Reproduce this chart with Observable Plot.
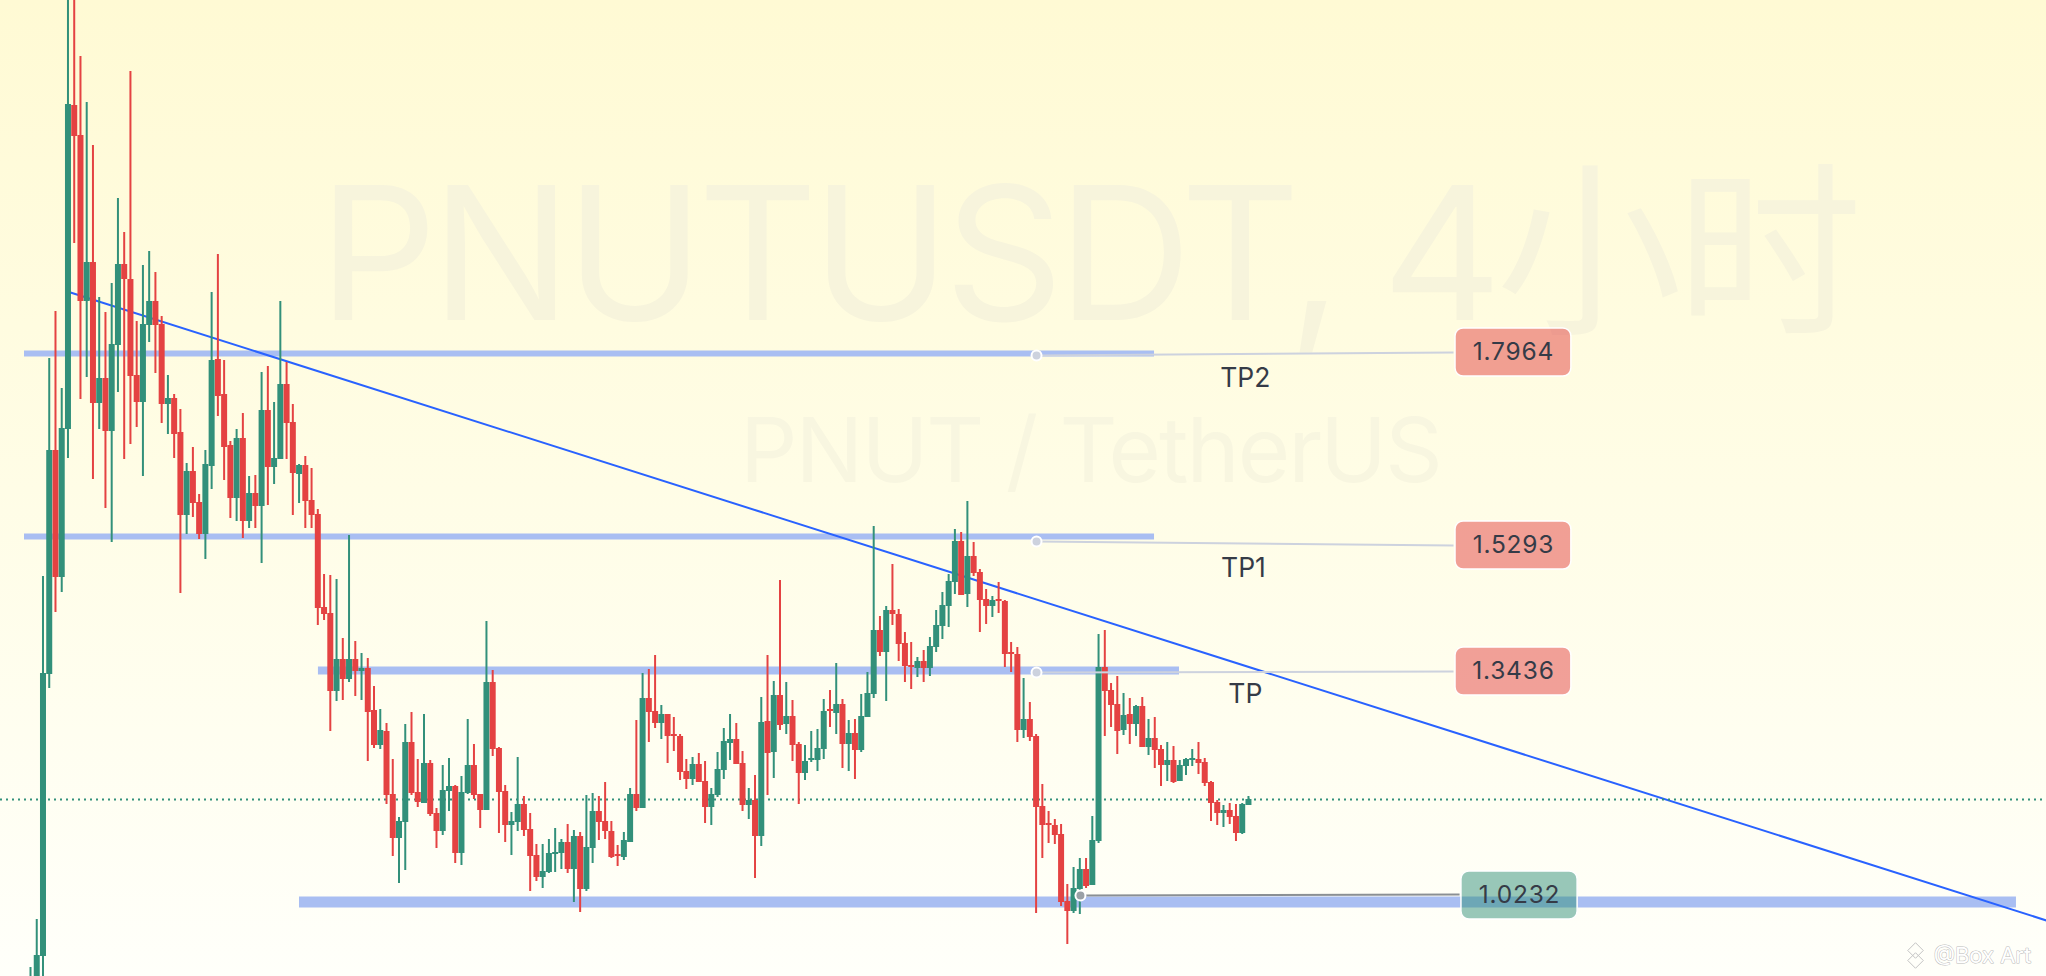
<!DOCTYPE html>
<html>
<head>
<meta charset="utf-8">
<script src="https://cdn.jsdelivr.net/npm/d3@7"></script>
<script src="https://cdn.jsdelivr.net/npm/@observablehq/plot@0.6"></script>
<style>
html,body{margin:0;padding:0;background:linear-gradient(#FFFAD4 0%,#FFFDE6 50%,#FFFFFA 100%);width:2046px;height:976px;overflow:hidden}
svg{display:block}
.wm-big text{letter-spacing:-6px}
.wm-sub text{letter-spacing:-2px}
.badge-label text{letter-spacing:.8px}
</style>
</head>
<body>
<div id="chart"></div>
<script>
// The picture has no price axis. Heights are read as counts of a 0.0014 price step above the 1.0232 zone.
const priceBase = 1.0232, priceStep = 0.0014;
const open = [-88,-98,-54,228,452,325,473,797,767,601,
640,499,524,471,557,638,623,527,500,577,
601,578,498,504,470,387,431,400,368,436,
543,508,457,404,464,381,409,396,492,435,
443,518,480,428,437,402,388,295,289,211,
243,223,243,231,234,192,157,171,108,64,
80,160,110,99,139,89,71,111,116,49,
109,137,108,92,220,154,111,77,80,98,
73,47,25,30,48,49,60,33,66,13,
54,91,81,71,48,45,60,108,94,204,
191,179,188,168,166,131,123,138,121,95,
107,132,159,163,139,97,102,66,181,150,
207,178,186,158,129,142,142,153,193,189,
198,158,169,152,185,208,272,250,292,288,
259,237,234,241,234,255,276,296,320,361,
308,346,330,303,296,303,301,250,248,172,
183,166,96,79,77,68,1,-9,13,33,
17,61,235,212,198,172,188,178,196,155,
164,153,137,142,121,136,142,143,140,120,
100,89,92,86,69,97];
const high = [-65,-17,326,544,591,514,942,942,846,800,
757,605,590,619,704,670,831,581,637,651,
630,586,527,508,493,439,455,408,452,610,
648,542,461,473,489,426,427,530,536,500,
601,540,498,438,446,434,393,328,327,323,
264,367,261,249,244,216,193,179,143,85,
178,190,143,188,142,94,137,144,117,126,
183,158,108,281,232,155,117,90,145,106,
89,58,58,63,74,63,78,72,70,107,
109,106,120,81,57,70,114,182,229,233,
247,197,188,185,168,143,145,149,141,114,
150,174,188,179,151,114,127,205,247,221,
322,220,202,160,157,171,173,203,212,239,
203,182,183,208,230,376,286,296,338,293,
270,260,245,252,265,292,310,328,373,370,
401,360,333,313,306,320,302,260,255,224,
200,168,118,91,83,78,18,35,44,44,
86,268,272,219,226,209,204,197,205,183,
185,157,160,156,142,144,153,160,144,121,
102,97,99,98,99,106];
const low = [-98,-108,-98,214,290,310,444,659,503,525,
423,473,394,360,510,443,458,475,426,560,
529,479,468,444,309,368,385,363,343,413,
486,422,384,381,364,374,374,339,397,418,
443,443,387,399,374,374,277,282,171,201,
202,220,206,202,141,154,153,98,46,19,
32,107,95,99,86,54,67,91,39,37,
108,103,74,92,146,69,60,47,71,66,
11,21,14,29,30,33,29,0,-10,11,
39,62,63,44,36,42,60,91,94,160,
174,163,139,151,122,113,117,120,79,77,
105,123,142,138,91,83,24,56,107,124,
172,168,141,98,122,140,131,143,175,168,
134,131,123,150,185,204,246,201,277,241,
220,213,225,220,226,250,263,275,308,307,
295,326,270,278,285,289,235,230,160,164,
161,-11,44,59,58,-4,-42,-11,-12,14,
17,59,166,175,148,167,158,166,155,147,
134,116,121,119,121,127,136,128,116,81,
77,75,78,61,68,97];
const close = [-83,-53,229,452,325,474,798,766,601,640,
499,524,471,558,638,623,526,500,578,601,
577,498,504,468,387,431,399,368,438,542,
506,455,404,464,381,409,396,492,435,444,
518,479,429,437,401,387,294,288,211,243,
223,243,231,234,190,157,172,107,64,81,
160,109,100,139,88,71,112,116,49,110,
137,107,92,220,153,110,77,81,98,72,
46,25,31,49,50,60,33,66,13,55,
91,80,71,45,46,62,108,94,204,190,
179,188,166,166,130,123,138,120,95,108,
133,161,163,138,97,102,66,180,149,207,
177,186,157,129,141,144,154,191,191,198,
158,169,152,186,209,272,250,292,288,258,
236,235,241,234,256,277,297,321,361,307,
346,329,302,296,302,301,248,248,172,183,
165,95,77,77,67,0,-9,14,33,16,
62,235,211,197,171,187,178,196,155,164,
152,137,142,120,137,143,144,139,119,99,
89,92,85,69,98,103];

const zoneLevels = [549, 366, 232, 0.5];
const zoneFrom = [-0.96, -0.96, 46.1, 43.07];
const zoneTo = [179.96, 179.96, 183.96, 317.96];
const zoneWidths = [6, 6, 8, 11];
const trendIndex = [6.4, 322.77];
const trendLevel = [610, -18];
const lastPriceLevel = 103;
const anchorIndex = [161.07, 161.07, 161.07, 168.1];
const anchorLevel = [547, 361, 230, 7];
const connectorEndIndex = [227.83, 227.83, 227.83, 228.8];
const connectorEndLevel = [550, 357, 231, 8];
const badgeTexts = ["1.7964", "1.5293", "1.3436", "1.0232"];
const badgeFrom = [228.15, 228.15, 228.15, 229.1];
const badgeTo = [246.7, 246.7, 246.7, 247.7];
const badgeLevel = [550, 357, 231, 7];
const badgeHalf = 24;
const tpTexts = ["TP2", "TP1", "TP"];
const tpIndex = [194.5, 194.2, 194.5];
const tpLevel = [524, 334, 208];

const green = "#32907A", red = "#E44242", zoneColor = "#A9BEF2", blue = "#2962FF";
const price = n => priceBase + n * priceStep;
const candles = open.map((o, i) => ({i, open: price(o), high: price(high[i]), low: price(low[i]), close: price(close[i]), up: close[i] >= o}));
const zones = zoneLevels.map((l, k) => ({l: price(l), a: zoneFrom[k], b: zoneTo[k], w: zoneWidths[k]}));
const trend = trendIndex.map((x, k) => ({x, y: price(trendLevel[k])}));
const connectors = anchorIndex.map((x, k) => ({x1: x, y1: price(anchorLevel[k]), x2: connectorEndIndex[k], y2: price(connectorEndLevel[k]), dark: k === 3}));
const badges = badgeTexts.map((t, k) => ({t, x1: badgeFrom[k], x2: badgeTo[k], y: price(badgeLevel[k]), y1: price(badgeLevel[k] - badgeHalf), y2: price(badgeLevel[k] + badgeHalf), buy: k === 3}));
const tps = tpTexts.map((t, k) => ({t, x: tpIndex[k], y: price(tpLevel[k])}));

const sans = "Inter, 'Noto Sans CJK SC', sans-serif";
const chart = Plot.plot({
  width: 2046, height: 976, margin: 0,
  x: {domain: [-4.803, 322.77], range: [0, 2046], axis: null},
  y: {domain: [price(-74), price(902)], range: [976, 0], axis: null},
  style: {background: "transparent"},
  marks: [
    Plot.text(["PNUTUSDT, 4小时"], {x: () => 169.2, y: () => price(642), text: d => d, fontSize: 186, fontWeight: 400, fontFamily: sans, fill: "#F7F4DC", className: "wm-big"}),
    Plot.text(["PNUT / TetherUS"], {x: () => 169.7, y: () => price(449), text: d => d, fontSize: 90, fontWeight: 400, fontFamily: sans, fill: "#F8F6E0", className: "wm-sub"}),
    Plot.ruleY(zones, {y: "l", x1: "a", x2: "b", stroke: zoneColor, strokeWidth: "w"}),
    Plot.line(trend, {x: "x", y: "y", stroke: blue, strokeWidth: 2}),
    Plot.ruleY([price(lastPriceLevel)], {stroke: green, strokeWidth: 2, strokeDasharray: "2 4"}),
    Plot.ruleX(candles, {x: "i", y1: "low", y2: "high", stroke: d => d.up ? green : red, strokeWidth: 2}),
    Plot.ruleX(candles, {x: "i", y1: "open", y2: "close", stroke: d => d.up ? green : red, strokeWidth: 6}),
    Plot.link(connectors, {x1: "x1", y1: "y1", x2: "x2", y2: "y2", stroke: d => d.dark ? "#8A8F94" : "#CDD2DE", strokeWidth: 2}),
    Plot.dot(connectors, {x: "x1", y: "y1", r: 5, fill: d => d.dark ? "#9AA0A6" : "#CDD2DE", stroke: "#fff", strokeWidth: 2}),
    Plot.rect(badges, {x1: "x1", x2: "x2", y1: "y1", y2: "y2", rx: 8, fill: d => d.buy ? "#32907A" : "#E44242", fillOpacity: 0.5, stroke: "#fff", strokeWidth: 1.5}),
    Plot.text(badges, {x: d => (d.x1 + d.x2) / 2, y: "y", text: "t", fontSize: 24.5, fontFamily: sans, fill: "#353B47", className: "badge-label"}),
    Plot.text(tps, {x: "x", y: "y", text: "t", fontSize: 26.5, fontFamily: sans, fill: "#353B47"}),
    Plot.text(["@Box Art"], {x: () => 304.7, y: () => price(-53), text: d => d, textAnchor: "start", fontSize: 22, fontFamily: sans, fill: "#fff", stroke: "#bbb", strokeWidth: 1}),
    Plot.dot([0, 1], {x: () => 301.8, y: d => price(-48 - d * 10), symbol: "diamond2", r: 7, stroke: "#c4c4c4", strokeWidth: 1, fill: "none"})
  ]
});
document.getElementById("chart").append(chart);
</script>
</body>
</html>
